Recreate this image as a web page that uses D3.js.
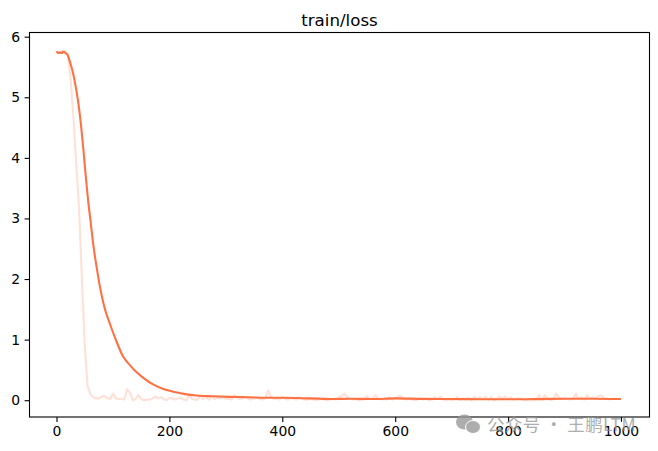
<!DOCTYPE html>
<html><head><meta charset="utf-8">
<script src="https://cdn.jsdelivr.net/npm/d3@7"></script>
<style>html,body{margin:0;padding:0;background:#fff}svg{display:block}</style>
</head><body><div id="c"></div>
<script>
const chartTitle = "train/loss";
const watermark = "公众号 · 王鹏LTM";
const xTicks = [0,200,400,600,800,1000];
const yTicks = [0,1,2,3,4,5,6];
const rawValues = [
5.75,5.74,5.76,5.77,5.72,5.30,4.68,3.90,3.15,2.00,
0.92,0.24,0.10,0.05,0.03,0.03,0.06,0.07,0.03,0.02,
0.11,0.03,0.02,0.02,0.01,0.18,0.12,0.00,0.02,0.085,
0.02,0.00,0.01,0.01,0.03,0.06,0.03,0.05,0.02,0.00,
0.04,0.03,0.01,0.03,0.05,0.01,0.00,0.09,0.02,0.01,
0.01,0.07,0.02,0.05,0.01,0.06,0.02,0.04,0.03,0.05,
0.02,0.03,0.01,0.08,0.04,0.02,0.03,0.05,0.02,0.01,
0.03,0.04,0.02,0.01,0.03,0.16,0.05,0.02,0.03,0.01,
0.05,0.02,0.01,0.04,0.02,0.01,0.05,0.02,0.01,0.01,
0.02,0.01,0.00,0.01,0.02,0.01,0.00,0.01,0.02,0.01,
0.05,0.07,0.11,0.05,0.02,0.01,0.02,0.00,0.01,0.01,
0.07,0.02,0.03,0.08,0.03,0.01,0.02,0.01,0.05,0.01,
0.03,0.06,0.07,0.02,0.01,0.03,0.01,0.00,0.01,0.03,
0.01,0.02,0.00,0.01,0.05,0.02,0.06,0.01,0.00,0.01,
0.00,0.01,0.05,0.00,0.03,0.01,0.04,0.00,0.06,0.02,
0.05,0.02,0.06,0.01,0.05,0.00,0.02,0.06,0.03,0.06,
0.02,0.05,0.01,0.03,0.03,0.02,0.00,0.01,0.02,0.01,
0.02,0.08,0.01,0.08,0.02,0.00,0.01,0.11,0.04,0.02,
0.03,0.02,0.01,0.02,0.11,0.02,0.05,0.01,0.08,0.03,
0.05,0.03,0.07,0.08,0.03,0.02,0.01,0.03,0.02,0.02,0.02];
const rawX = d3.range(0,1005,5);
const smoothX = [0,3,6,9,12,16,20,24,28,33,38,42,47,52,56,60,65,71,77,85,95,105,118,130,142,155,171,188,207,228,248,275,307,340,370,400,450,490,520,560,600,650,700,750,800,850,900,950,1000];
const smoothValues = [5.76,5.73,5.74,5.73,5.75,5.73,5.69,5.58,5.45,5.23,4.95,4.66,4.20,3.68,3.30,2.98,2.58,2.20,1.87,1.53,1.25,1.00,0.72,0.58,0.46,0.36,0.26,0.19,0.14,0.10,0.078,0.065,0.055,0.05,0.04,0.04,0.03,0.02,0.025,0.02,0.03,0.022,0.02,0.016,0.016,0.018,0.025,0.025,0.02];

const W=658,H=451;
const svg=d3.select("#c").append("svg").attr("width",W).attr("height",H);
const L=29.5,R=649.5,T=32.5,B=417;
const x=d3.scaleLinear().domain([0,1000]).range([56.5,621]);
const y=d3.scaleLinear().domain([0,6]).range([400.2,36.7]);
const col="#ff7043";
const rawLine=d3.line().x(d=>x(d[0])).y(d=>y(d[1]));
const smoothLine=d3.line().x(d=>x(d[0])).y(d=>y(d[1])).curve(d3.curveMonotoneX);
svg.append("path").datum(rawX.map((v,i)=>[v,rawValues[i]])).attr("d",rawLine)
  .attr("fill","none").attr("stroke",col).attr("stroke-width",2.08).attr("stroke-opacity",0.22).attr("stroke-linejoin","round");
svg.append("path").datum(smoothX.map((v,i)=>[v,smoothValues[i]])).attr("d",smoothLine)
  .attr("fill","none").attr("stroke",col).attr("stroke-width",2.08).attr("stroke-linejoin","round");
const font="'DejaVu Sans',sans-serif";
const ax=svg.append("g").attr("transform",`translate(0,${B})`).call(d3.axisBottom(x).tickValues(xTicks).tickSize(4.9).tickPadding(4.5).tickFormat(d3.format("d")));
const ay=svg.append("g").attr("transform",`translate(${L},0)`).call(d3.axisLeft(y).tickValues(yTicks).tickSize(4.9).tickPadding(4.5).tickFormat(d3.format("d")));
[ax,ay].forEach(g=>{g.select(".domain").remove();
  g.selectAll("text").attr("font-family",font).attr("font-size",13.9).attr("fill","#000");
  g.selectAll("line").attr("stroke","#000").attr("stroke-width",1.1);});
svg.append("rect").attr("x",L).attr("y",T).attr("width",R-L).attr("height",B-T)
  .attr("fill","none").attr("stroke","#000").attr("stroke-width",1.1);
svg.append("text").attr("x",(L+R)/2).attr("y",T-6.5).attr("text-anchor","middle")
  .attr("font-family",font).attr("font-size",16.67).attr("fill","#000").text(chartTitle);
// watermark
const wm=svg.append("g").attr("opacity",0.8);
wm.append("ellipse").attr("cx",464.5).attr("cy",422).attr("rx",8.5).attr("ry",7.5).attr("fill","#999");
wm.append("ellipse").attr("cx",473).attr("cy",427).attr("rx",7.5).attr("ry",6.5).attr("fill","#999").attr("stroke","#fff").attr("stroke-width",1);
wm.append("text").attr("x",487).attr("y",431).attr("font-family","'Noto Sans CJK SC'")
  .attr("font-size",17.5).attr("letter-spacing",0.4).attr("fill","#999").text(watermark);
</script></body></html>
